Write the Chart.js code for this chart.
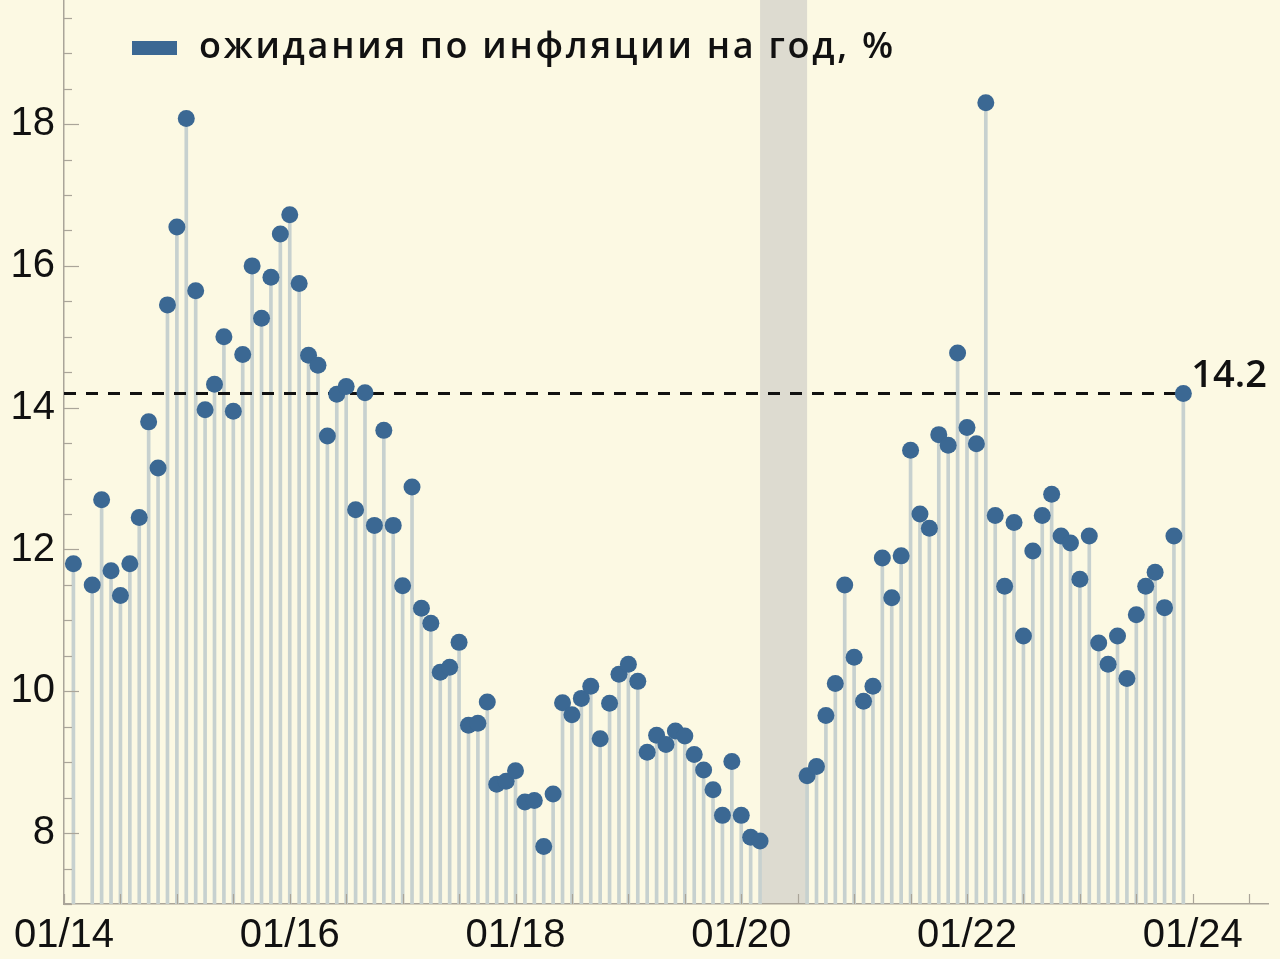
<!DOCTYPE html>
<html>
<head>
<meta charset="utf-8">
<script src="https://cdn.jsdelivr.net/npm/chart.js@4.4.1/dist/chart.umd.min.js"></script>
<style>
  html, body { margin: 0; padding: 0; background: #fcf9e3; }
  #wrap { width: 1280px; height: 959px; }
</style>
</head>
<body>
<div id="wrap"><canvas id="chart"></canvas></div>
<script>
// months counted from 01/14, first observation one month after the axis start
const firstMonth = 1;
const expectations = [
    11.8, null, 11.5, 12.7, 11.7, 11.35, 11.8, 12.45, 13.8, 13.15, 15.45,
    16.55, 18.08, 15.65, 13.97, 14.33, 15.0, 13.95, 14.75, 16.0, 15.26, 15.84, 16.45,
    16.72, 15.75, 14.74, 14.6, 13.6, 14.19, 14.3, 12.56, 14.21, 12.34, 13.68, 12.34,
    11.49, 12.88, 11.17, 10.96, 10.27, 10.34, 10.69, 9.52, 9.55, 9.85, 8.69, 8.73,
    8.88, 8.44, 8.46, 7.81, 8.55, 9.84, 9.67, 9.9, 10.07, 9.33, 9.83, 10.24,
    10.38, 10.14, 9.14, 9.38, 9.25, 9.44, 9.37, 9.11, 8.89, 8.61, 8.25, 9.01,
    8.25, 7.94, 7.89, null, null, null, null, 8.81, 8.94, 9.66, 10.11, 11.5,
    10.48, 9.86, 10.07, 11.88, 11.32, 11.91, 13.4, 12.5, 12.3, 13.62, 13.47, 14.77,
    13.72, 13.49, 18.3, 12.48, 11.48, 12.38, 10.78, 11.98, 12.48, 12.78, 12.19, 12.09,
    11.58, 12.19, 10.68, 10.38, 10.78, 10.18, 11.08, 11.48, 11.68, 11.18, 12.19, 14.2
];
const seriesLabel = 'ожидания по инфляции на год, %';
const xTickLabels = ['01/14', '01/16', '01/18', '01/20', '01/22', '01/24'];
const yTickLabels = [8, 10, 12, 14, 16, 18];
const gapBand = [74, 79];
const lastLevel = 14.2;

const dotColor = '#3b6893';
const stemColor = '#c7d1cf';
const bandColor = '#dddbd0';
const axisColor = '#aaa599';

const points = [];
expectations.forEach((v, i) => {
    if (v !== null) points.push({ x: firstMonth + i, y: v });
});
const lastPoint = points[points.length - 1];

const decor = {
    id: 'decor',
    beforeDatasetsDraw(chart) {
        const { ctx, chartArea, scales: { x } } = chart;
        const x0 = x.getPixelForValue(gapBand[0]);
        const x1 = x.getPixelForValue(gapBand[1]);
        ctx.save();
        ctx.fillStyle = bandColor;
        ctx.fillRect(x0, chartArea.top, x1 - x0, chartArea.bottom - chartArea.top - 1);
        ctx.restore();
    },
    afterDraw(chart) {
        const { ctx, chartArea, scales: { x, y } } = chart;
        ctx.save();
        ctx.strokeStyle = axisColor;
        ctx.lineWidth = 1.2;
        y.ticks.forEach(t => {
            const py = Math.round(y.getPixelForValue(t.value)) + 0.5;
            const len = yTickLabels.includes(t.value) ? 15 : 8;
            ctx.beginPath();
            ctx.moveTo(chartArea.left, py);
            ctx.lineTo(chartArea.left + len, py);
            ctx.stroke();
        });
        x.ticks.forEach(t => {
            const px = Math.round(x.getPixelForValue(t.value)) + 0.5;
            ctx.beginPath();
            ctx.moveTo(px, chartArea.bottom);
            ctx.lineTo(px, chartArea.bottom - 10);
            ctx.stroke();
        });

        // last value label
        const lx = x.getPixelForValue(lastPoint.x);
        const ly = y.getPixelForValue(lastPoint.y);
        ctx.fillStyle = '#111';
        ctx.font = '600 38px "Open Sans"';
        ctx.textAlign = 'left';
        ctx.textBaseline = 'alphabetic';
        ctx.fillText(String(lastLevel), lx + 8, ly - 7);

        // legend
        ctx.fillStyle = dotColor;
        ctx.fillRect(132, 41, 45, 14);
        ctx.fillStyle = '#111';
        ctx.font = '600 36px "Open Sans"';
        const label = chart.data.datasets[0].label;
        const w = ctx.measureText(label).width;
        ctx.letterSpacing = Math.max(0, (694 - w) / (label.length - 1)).toFixed(2) + 'px';
        ctx.fillText(label, 199, 58);
        ctx.restore();
    }
};

new Chart(document.getElementById('chart'), {
    type: 'bar',
    data: {
        datasets: [
            {
                type: 'scatter',
                label: seriesLabel,
                data: points,
                pointRadius: 8.5,
                pointBackgroundColor: dotColor,
                pointBorderWidth: 0,
                order: 0
            },
            {
                type: 'line',
                label: 'level',
                data: [{ x: 0, y: lastLevel }, { x: lastPoint.x, y: lastLevel }],
                borderColor: '#111',
                borderWidth: 3,
                borderDash: [12, 10],
                pointRadius: 0,
                order: 1
            },
            {
                type: 'bar',
                label: 'stems',
                data: points,
                backgroundColor: stemColor,
                barThickness: 3,
                order: 2
            }
        ]
    },
    options: {
        responsive: true,
        maintainAspectRatio: false,
        animation: false,
        layout: { autoPadding: false, padding: { top: 0, right: 12, left: 0, bottom: 0 } },
        plugins: {
            legend: { display: false },
            tooltip: { enabled: false }
        },
        scales: {
            x: {
                type: 'linear',
                offset: false,
                min: 0,
                max: 128,
                afterBuildTicks: s => {
                    const t = [];
                    for (let v = 0; v <= 126; v += 6) t.push({ value: v });
                    s.ticks = t;
                },
                afterFit: s => { s.height = 55; s.paddingRight = 0; },
                grid: { display: false, drawTicks: false, offset: false },
                border: { display: true, color: axisColor, width: 1.5 },
                ticks: {
                    autoSkip: false,
                    maxRotation: 0,
                    padding: 8,
                    color: '#111',
                    font: { family: '"Liberation Sans", Arial, sans-serif', size: 40 },
                    callback: v => (v % 24 === 0 ? xTickLabels[v / 24] : '')
                }
            },
            y: {
                min: 7,
                max: 19.75,
                afterBuildTicks: s => {
                    const t = [];
                    for (let v = 7; v <= 19.5; v += 0.5) t.push({ value: v });
                    s.ticks = t;
                },
                afterFit: s => { s.width = 64; s.paddingTop = 0; s.paddingBottom = 0; },
                grid: { display: false, drawTicks: false },
                border: { display: true, color: axisColor, width: 1.5 },
                ticks: {
                    autoSkip: false,
                    padding: 9,
                    color: '#111',
                    font: { family: '"Liberation Sans", Arial, sans-serif', size: 40 },
                    callback: v => (yTickLabels.includes(v) ? String(v) : '')
                }
            }
        }
    },
    plugins: [decor]
});
</script>
</body>
</html>
